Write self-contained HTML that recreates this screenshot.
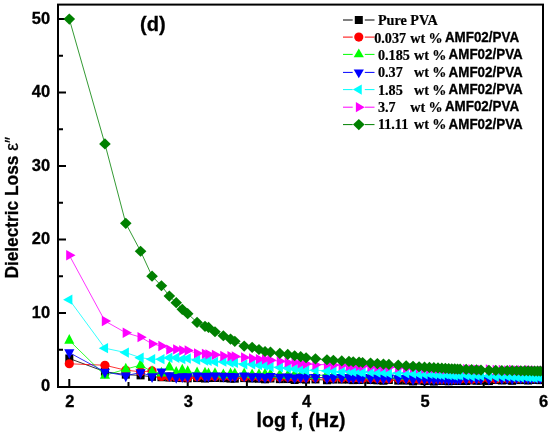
<!DOCTYPE html>
<html><head><meta charset="utf-8"><title>Dielectric Loss</title>
<style>
html,body{margin:0;padding:0;background:#fff;}
body{width:550px;height:435px;overflow:hidden;}
svg{display:block;}
</style></head>
<body>
<svg width="550" height="435" viewBox="0 0 550 435">
<rect width="550" height="435" fill="#fff"/>
<defs><clipPath id="c"><rect x="59" y="6" width="483" height="380"/></clipPath></defs>
<path d="M59 349.66h4 M59 312.93h7 M59 276.19h4 M59 239.46h7 M59 202.72h4 M59 165.99h7 M59 129.25h4 M59 92.52h7 M59 55.78h4 M59 19.05h7 M69.30 386v-7 M128.50 386v-4 M187.70 386v-7 M246.90 386v-4 M306.10 386v-7 M365.30 386v-4 M424.50 386v-7 M483.70 386v-4" stroke="#000" stroke-width="2" fill="none"/>
<g clip-path="url(#c)">
<polyline points="69.30,358.48 104.94,371.71 125.79,374.65 140.58,375.38 152.06,376.85 161.43,377.24 169.36,377.56 176.23,377.85 182.28,378.09 187.70,378.32 197.08,378.10 205.00,378.51 208.55,378.07 214.99,378.00 223.34,378.17 230.53,378.60 234.82,378.63 244.19,378.10 252.12,378.53 258.98,378.70 265.04,379.29 270.46,378.51 279.83,379.14 287.76,379.10 294.63,379.98 300.68,379.17 306.10,379.63 315.48,379.44 326.95,380.22 333.39,379.56 341.74,379.61 348.93,379.60 353.22,380.12 359.04,379.99 362.59,379.65 370.52,380.02 377.38,380.31 383.44,380.69 388.86,379.99 398.23,380.59 406.16,380.61 413.03,381.37 419.08,380.52 424.50,381.06 429.40,380.80 433.88,381.53 437.99,380.67 441.80,380.85 445.35,380.72 448.67,381.31 451.79,380.84 454.72,380.61 457.50,380.74 460.14,381.02 466.20,381.03 471.62,380.35 476.52,380.72 480.99,380.67 488.92,381.07 495.78,380.04 501.84,380.44 507.26,380.16 512.16,380.81 516.63,379.81 520.75,380.09 524.56,379.87 528.11,380.50 531.43,379.80 534.54,379.74 537.48,379.75 540.26,380.14 542.90,379.91" fill="none" stroke="#000000" stroke-width="0.8"/>
<g><rect x="65.30" y="354.48" width="8.0" height="8.0" fill="#000000"/><rect x="100.94" y="367.71" width="8.0" height="8.0" fill="#000000"/><rect x="121.79" y="370.65" width="8.0" height="8.0" fill="#000000"/><rect x="136.58" y="371.38" width="8.0" height="8.0" fill="#000000"/><rect x="148.06" y="372.85" width="8.0" height="8.0" fill="#000000"/><rect x="157.43" y="373.24" width="8.0" height="8.0" fill="#000000"/><rect x="165.36" y="373.56" width="8.0" height="8.0" fill="#000000"/><rect x="172.23" y="373.85" width="8.0" height="8.0" fill="#000000"/><rect x="178.28" y="374.09" width="8.0" height="8.0" fill="#000000"/><rect x="183.70" y="374.32" width="8.0" height="8.0" fill="#000000"/><rect x="193.08" y="374.10" width="8.0" height="8.0" fill="#000000"/><rect x="201.00" y="374.51" width="8.0" height="8.0" fill="#000000"/><rect x="204.55" y="374.07" width="8.0" height="8.0" fill="#000000"/><rect x="210.99" y="374.00" width="8.0" height="8.0" fill="#000000"/><rect x="219.34" y="374.17" width="8.0" height="8.0" fill="#000000"/><rect x="226.53" y="374.60" width="8.0" height="8.0" fill="#000000"/><rect x="230.82" y="374.63" width="8.0" height="8.0" fill="#000000"/><rect x="240.19" y="374.10" width="8.0" height="8.0" fill="#000000"/><rect x="248.12" y="374.53" width="8.0" height="8.0" fill="#000000"/><rect x="254.98" y="374.70" width="8.0" height="8.0" fill="#000000"/><rect x="261.04" y="375.29" width="8.0" height="8.0" fill="#000000"/><rect x="266.46" y="374.51" width="8.0" height="8.0" fill="#000000"/><rect x="275.83" y="375.14" width="8.0" height="8.0" fill="#000000"/><rect x="283.76" y="375.10" width="8.0" height="8.0" fill="#000000"/><rect x="290.63" y="375.98" width="8.0" height="8.0" fill="#000000"/><rect x="296.68" y="375.17" width="8.0" height="8.0" fill="#000000"/><rect x="302.10" y="375.63" width="8.0" height="8.0" fill="#000000"/><rect x="311.48" y="375.44" width="8.0" height="8.0" fill="#000000"/><rect x="322.95" y="376.22" width="8.0" height="8.0" fill="#000000"/><rect x="329.39" y="375.56" width="8.0" height="8.0" fill="#000000"/><rect x="337.74" y="375.61" width="8.0" height="8.0" fill="#000000"/><rect x="344.93" y="375.60" width="8.0" height="8.0" fill="#000000"/><rect x="349.22" y="376.12" width="8.0" height="8.0" fill="#000000"/><rect x="355.04" y="375.99" width="8.0" height="8.0" fill="#000000"/><rect x="358.59" y="375.65" width="8.0" height="8.0" fill="#000000"/><rect x="366.52" y="376.02" width="8.0" height="8.0" fill="#000000"/><rect x="373.38" y="376.31" width="8.0" height="8.0" fill="#000000"/><rect x="379.44" y="376.69" width="8.0" height="8.0" fill="#000000"/><rect x="384.86" y="375.99" width="8.0" height="8.0" fill="#000000"/><rect x="394.23" y="376.59" width="8.0" height="8.0" fill="#000000"/><rect x="402.16" y="376.61" width="8.0" height="8.0" fill="#000000"/><rect x="409.03" y="377.37" width="8.0" height="8.0" fill="#000000"/><rect x="415.08" y="376.52" width="8.0" height="8.0" fill="#000000"/><rect x="420.50" y="377.06" width="8.0" height="8.0" fill="#000000"/><rect x="425.40" y="376.80" width="8.0" height="8.0" fill="#000000"/><rect x="429.88" y="377.53" width="8.0" height="8.0" fill="#000000"/><rect x="433.99" y="376.67" width="8.0" height="8.0" fill="#000000"/><rect x="437.80" y="376.85" width="8.0" height="8.0" fill="#000000"/><rect x="441.35" y="376.72" width="8.0" height="8.0" fill="#000000"/><rect x="444.67" y="377.31" width="8.0" height="8.0" fill="#000000"/><rect x="447.79" y="376.84" width="8.0" height="8.0" fill="#000000"/><rect x="450.72" y="376.61" width="8.0" height="8.0" fill="#000000"/><rect x="453.50" y="376.74" width="8.0" height="8.0" fill="#000000"/><rect x="456.14" y="377.02" width="8.0" height="8.0" fill="#000000"/><rect x="462.20" y="377.03" width="8.0" height="8.0" fill="#000000"/><rect x="467.62" y="376.35" width="8.0" height="8.0" fill="#000000"/><rect x="472.52" y="376.72" width="8.0" height="8.0" fill="#000000"/><rect x="476.99" y="376.67" width="8.0" height="8.0" fill="#000000"/><rect x="484.92" y="377.07" width="8.0" height="8.0" fill="#000000"/><rect x="491.78" y="376.04" width="8.0" height="8.0" fill="#000000"/><rect x="497.84" y="376.44" width="8.0" height="8.0" fill="#000000"/><rect x="503.26" y="376.16" width="8.0" height="8.0" fill="#000000"/><rect x="508.16" y="376.81" width="8.0" height="8.0" fill="#000000"/><rect x="512.63" y="375.81" width="8.0" height="8.0" fill="#000000"/><rect x="516.75" y="376.09" width="8.0" height="8.0" fill="#000000"/><rect x="520.56" y="375.87" width="8.0" height="8.0" fill="#000000"/><rect x="524.11" y="376.50" width="8.0" height="8.0" fill="#000000"/><rect x="527.43" y="375.80" width="8.0" height="8.0" fill="#000000"/><rect x="530.54" y="375.74" width="8.0" height="8.0" fill="#000000"/><rect x="533.48" y="375.75" width="8.0" height="8.0" fill="#000000"/><rect x="536.26" y="376.14" width="8.0" height="8.0" fill="#000000"/><rect x="538.90" y="375.91" width="8.0" height="8.0" fill="#000000"/></g>
<polyline points="69.30,363.77 104.94,365.24 125.79,370.24 140.58,371.71 152.06,370.97 161.43,376.48 169.36,376.81 176.23,377.10 182.28,377.36 187.70,377.58 197.08,376.74 205.00,376.21 208.55,376.27 214.99,376.60 223.34,376.27 230.53,376.54 234.82,376.47 244.19,376.90 252.12,376.55 258.98,376.86 265.04,376.88 270.46,377.36 279.83,377.20 287.76,377.37 294.63,377.49 300.68,377.86 306.10,377.86 315.48,377.68 326.95,377.84 333.39,377.94 341.74,378.10 348.93,377.73 353.22,377.96 359.04,378.00 362.59,378.38 370.52,378.04 377.38,378.38 383.44,378.38 388.86,378.85 398.23,378.60 406.16,378.84 413.03,378.90 419.08,379.32 424.50,379.18 429.40,379.05 433.88,379.09 437.99,379.22 441.80,379.22 445.35,378.87 448.67,379.05 451.79,379.02 454.72,379.25 457.50,378.77 460.14,379.00 466.20,378.86 471.62,379.19 476.52,378.69 480.99,378.84 488.92,378.66 495.78,378.90 501.84,378.48 507.26,378.39 512.16,378.35 516.63,378.50 520.75,378.34 524.56,378.05 528.11,378.16 531.43,378.16 534.54,378.27 537.48,377.80 540.26,378.01 542.90,377.90" fill="none" stroke="#ff0000" stroke-width="0.8"/>
<g><circle cx="69.30" cy="363.77" r="4.6" fill="#ff0000"/><circle cx="104.94" cy="365.24" r="4.6" fill="#ff0000"/><circle cx="125.79" cy="370.24" r="4.6" fill="#ff0000"/><circle cx="140.58" cy="371.71" r="4.6" fill="#ff0000"/><circle cx="152.06" cy="370.97" r="4.6" fill="#ff0000"/><circle cx="161.43" cy="376.48" r="4.6" fill="#ff0000"/><circle cx="169.36" cy="376.81" r="4.6" fill="#ff0000"/><circle cx="176.23" cy="377.10" r="4.6" fill="#ff0000"/><circle cx="182.28" cy="377.36" r="4.6" fill="#ff0000"/><circle cx="187.70" cy="377.58" r="4.6" fill="#ff0000"/><circle cx="197.08" cy="376.74" r="4.6" fill="#ff0000"/><circle cx="205.00" cy="376.21" r="4.6" fill="#ff0000"/><circle cx="208.55" cy="376.27" r="4.6" fill="#ff0000"/><circle cx="214.99" cy="376.60" r="4.6" fill="#ff0000"/><circle cx="223.34" cy="376.27" r="4.6" fill="#ff0000"/><circle cx="230.53" cy="376.54" r="4.6" fill="#ff0000"/><circle cx="234.82" cy="376.47" r="4.6" fill="#ff0000"/><circle cx="244.19" cy="376.90" r="4.6" fill="#ff0000"/><circle cx="252.12" cy="376.55" r="4.6" fill="#ff0000"/><circle cx="258.98" cy="376.86" r="4.6" fill="#ff0000"/><circle cx="265.04" cy="376.88" r="4.6" fill="#ff0000"/><circle cx="270.46" cy="377.36" r="4.6" fill="#ff0000"/><circle cx="279.83" cy="377.20" r="4.6" fill="#ff0000"/><circle cx="287.76" cy="377.37" r="4.6" fill="#ff0000"/><circle cx="294.63" cy="377.49" r="4.6" fill="#ff0000"/><circle cx="300.68" cy="377.86" r="4.6" fill="#ff0000"/><circle cx="306.10" cy="377.86" r="4.6" fill="#ff0000"/><circle cx="315.48" cy="377.68" r="4.6" fill="#ff0000"/><circle cx="326.95" cy="377.84" r="4.6" fill="#ff0000"/><circle cx="333.39" cy="377.94" r="4.6" fill="#ff0000"/><circle cx="341.74" cy="378.10" r="4.6" fill="#ff0000"/><circle cx="348.93" cy="377.73" r="4.6" fill="#ff0000"/><circle cx="353.22" cy="377.96" r="4.6" fill="#ff0000"/><circle cx="359.04" cy="378.00" r="4.6" fill="#ff0000"/><circle cx="362.59" cy="378.38" r="4.6" fill="#ff0000"/><circle cx="370.52" cy="378.04" r="4.6" fill="#ff0000"/><circle cx="377.38" cy="378.38" r="4.6" fill="#ff0000"/><circle cx="383.44" cy="378.38" r="4.6" fill="#ff0000"/><circle cx="388.86" cy="378.85" r="4.6" fill="#ff0000"/><circle cx="398.23" cy="378.60" r="4.6" fill="#ff0000"/><circle cx="406.16" cy="378.84" r="4.6" fill="#ff0000"/><circle cx="413.03" cy="378.90" r="4.6" fill="#ff0000"/><circle cx="419.08" cy="379.32" r="4.6" fill="#ff0000"/><circle cx="424.50" cy="379.18" r="4.6" fill="#ff0000"/><circle cx="429.40" cy="379.05" r="4.6" fill="#ff0000"/><circle cx="433.88" cy="379.09" r="4.6" fill="#ff0000"/><circle cx="437.99" cy="379.22" r="4.6" fill="#ff0000"/><circle cx="441.80" cy="379.22" r="4.6" fill="#ff0000"/><circle cx="445.35" cy="378.87" r="4.6" fill="#ff0000"/><circle cx="448.67" cy="379.05" r="4.6" fill="#ff0000"/><circle cx="451.79" cy="379.02" r="4.6" fill="#ff0000"/><circle cx="454.72" cy="379.25" r="4.6" fill="#ff0000"/><circle cx="457.50" cy="378.77" r="4.6" fill="#ff0000"/><circle cx="460.14" cy="379.00" r="4.6" fill="#ff0000"/><circle cx="466.20" cy="378.86" r="4.6" fill="#ff0000"/><circle cx="471.62" cy="379.19" r="4.6" fill="#ff0000"/><circle cx="476.52" cy="378.69" r="4.6" fill="#ff0000"/><circle cx="480.99" cy="378.84" r="4.6" fill="#ff0000"/><circle cx="488.92" cy="378.66" r="4.6" fill="#ff0000"/><circle cx="495.78" cy="378.90" r="4.6" fill="#ff0000"/><circle cx="501.84" cy="378.48" r="4.6" fill="#ff0000"/><circle cx="507.26" cy="378.39" r="4.6" fill="#ff0000"/><circle cx="512.16" cy="378.35" r="4.6" fill="#ff0000"/><circle cx="516.63" cy="378.50" r="4.6" fill="#ff0000"/><circle cx="520.75" cy="378.34" r="4.6" fill="#ff0000"/><circle cx="524.56" cy="378.05" r="4.6" fill="#ff0000"/><circle cx="528.11" cy="378.16" r="4.6" fill="#ff0000"/><circle cx="531.43" cy="378.16" r="4.6" fill="#ff0000"/><circle cx="534.54" cy="378.27" r="4.6" fill="#ff0000"/><circle cx="537.48" cy="377.80" r="4.6" fill="#ff0000"/><circle cx="540.26" cy="378.01" r="4.6" fill="#ff0000"/><circle cx="542.90" cy="377.90" r="4.6" fill="#ff0000"/></g>
<polyline points="69.30,340.48 104.94,375.38 125.79,369.13 140.58,365.10 152.06,371.70 161.43,373.16 169.36,367.31 176.23,372.44 182.28,370.24 187.70,371.71 197.08,373.11 205.00,373.29 208.55,373.90 214.99,373.74 223.34,375.06 230.53,374.04 234.82,374.09 244.19,374.06 252.12,374.90 258.98,374.66 265.04,374.15 270.46,374.58 279.83,374.98 287.76,375.51 294.63,374.43 300.68,375.18 306.10,375.08 315.48,376.04 326.95,374.60 333.39,375.26 341.74,374.93 348.93,376.07 353.22,374.81 359.04,375.19 362.59,375.08 370.52,376.12 377.38,375.53 383.44,375.30 388.86,375.60 398.23,376.19 406.16,376.37 413.03,375.51 419.08,376.19 424.50,376.24 429.40,376.94 433.88,375.53 437.99,376.24 441.80,375.92 445.35,376.97 448.67,375.55 451.79,376.05 454.72,375.79 457.50,376.80 460.14,375.80 466.20,375.74 471.62,375.79 476.52,376.40 480.99,376.09 488.92,375.30 495.78,375.69 501.84,375.75 507.26,376.11 512.16,374.79 516.63,375.48 520.75,375.20 524.56,376.09 528.11,374.57 531.43,375.22 534.54,374.88 537.48,375.90 540.26,374.63 542.90,374.86" fill="none" stroke="#00ff00" stroke-width="0.8"/>
<g><polygon points="69.30,333.98 74.35,343.73 64.25,343.73" fill="#00ff00"/><polygon points="104.94,368.88 109.99,378.63 99.89,378.63" fill="#00ff00"/><polygon points="125.79,362.63 130.84,372.38 120.74,372.38" fill="#00ff00"/><polygon points="140.58,358.60 145.63,368.35 135.53,368.35" fill="#00ff00"/><polygon points="152.06,365.20 157.11,374.95 147.01,374.95" fill="#00ff00"/><polygon points="161.43,366.66 166.48,376.41 156.38,376.41" fill="#00ff00"/><polygon points="169.36,360.81 174.41,370.56 164.31,370.56" fill="#00ff00"/><polygon points="176.23,365.94 181.28,375.69 171.18,375.69" fill="#00ff00"/><polygon points="182.28,363.74 187.33,373.49 177.23,373.49" fill="#00ff00"/><polygon points="187.70,365.21 192.75,374.96 182.65,374.96" fill="#00ff00"/><polygon points="197.08,366.61 202.13,376.36 192.03,376.36" fill="#00ff00"/><polygon points="205.00,366.79 210.05,376.54 199.95,376.54" fill="#00ff00"/><polygon points="208.55,367.40 213.60,377.15 203.50,377.15" fill="#00ff00"/><polygon points="214.99,367.24 220.04,376.99 209.94,376.99" fill="#00ff00"/><polygon points="223.34,368.56 228.39,378.31 218.29,378.31" fill="#00ff00"/><polygon points="230.53,367.54 235.58,377.29 225.48,377.29" fill="#00ff00"/><polygon points="234.82,367.59 239.87,377.34 229.77,377.34" fill="#00ff00"/><polygon points="244.19,367.56 249.24,377.31 239.14,377.31" fill="#00ff00"/><polygon points="252.12,368.40 257.17,378.15 247.07,378.15" fill="#00ff00"/><polygon points="258.98,368.16 264.03,377.91 253.93,377.91" fill="#00ff00"/><polygon points="265.04,367.65 270.09,377.40 259.99,377.40" fill="#00ff00"/><polygon points="270.46,368.08 275.51,377.83 265.41,377.83" fill="#00ff00"/><polygon points="279.83,368.48 284.88,378.23 274.78,378.23" fill="#00ff00"/><polygon points="287.76,369.01 292.81,378.76 282.71,378.76" fill="#00ff00"/><polygon points="294.63,367.93 299.68,377.68 289.58,377.68" fill="#00ff00"/><polygon points="300.68,368.68 305.73,378.43 295.63,378.43" fill="#00ff00"/><polygon points="306.10,368.58 311.15,378.33 301.05,378.33" fill="#00ff00"/><polygon points="315.48,369.54 320.53,379.29 310.43,379.29" fill="#00ff00"/><polygon points="326.95,368.10 332.00,377.85 321.90,377.85" fill="#00ff00"/><polygon points="333.39,368.76 338.44,378.51 328.34,378.51" fill="#00ff00"/><polygon points="341.74,368.43 346.79,378.18 336.69,378.18" fill="#00ff00"/><polygon points="348.93,369.57 353.98,379.32 343.88,379.32" fill="#00ff00"/><polygon points="353.22,368.31 358.27,378.06 348.17,378.06" fill="#00ff00"/><polygon points="359.04,368.69 364.09,378.44 353.99,378.44" fill="#00ff00"/><polygon points="362.59,368.58 367.64,378.33 357.54,378.33" fill="#00ff00"/><polygon points="370.52,369.62 375.57,379.37 365.47,379.37" fill="#00ff00"/><polygon points="377.38,369.03 382.43,378.78 372.33,378.78" fill="#00ff00"/><polygon points="383.44,368.80 388.49,378.55 378.39,378.55" fill="#00ff00"/><polygon points="388.86,369.10 393.91,378.85 383.81,378.85" fill="#00ff00"/><polygon points="398.23,369.69 403.28,379.44 393.18,379.44" fill="#00ff00"/><polygon points="406.16,369.87 411.21,379.62 401.11,379.62" fill="#00ff00"/><polygon points="413.03,369.01 418.08,378.76 407.98,378.76" fill="#00ff00"/><polygon points="419.08,369.69 424.13,379.44 414.03,379.44" fill="#00ff00"/><polygon points="424.50,369.74 429.55,379.49 419.45,379.49" fill="#00ff00"/><polygon points="429.40,370.44 434.45,380.19 424.35,380.19" fill="#00ff00"/><polygon points="433.88,369.03 438.93,378.78 428.83,378.78" fill="#00ff00"/><polygon points="437.99,369.74 443.04,379.49 432.94,379.49" fill="#00ff00"/><polygon points="441.80,369.42 446.85,379.17 436.75,379.17" fill="#00ff00"/><polygon points="445.35,370.47 450.40,380.22 440.30,380.22" fill="#00ff00"/><polygon points="448.67,369.05 453.72,378.80 443.62,378.80" fill="#00ff00"/><polygon points="451.79,369.55 456.84,379.30 446.74,379.30" fill="#00ff00"/><polygon points="454.72,369.29 459.77,379.04 449.67,379.04" fill="#00ff00"/><polygon points="457.50,370.30 462.55,380.05 452.45,380.05" fill="#00ff00"/><polygon points="460.14,369.30 465.19,379.05 455.09,379.05" fill="#00ff00"/><polygon points="466.20,369.24 471.25,378.99 461.15,378.99" fill="#00ff00"/><polygon points="471.62,369.29 476.67,379.04 466.57,379.04" fill="#00ff00"/><polygon points="476.52,369.90 481.57,379.65 471.47,379.65" fill="#00ff00"/><polygon points="480.99,369.59 486.04,379.34 475.94,379.34" fill="#00ff00"/><polygon points="488.92,368.80 493.97,378.55 483.87,378.55" fill="#00ff00"/><polygon points="495.78,369.19 500.83,378.94 490.73,378.94" fill="#00ff00"/><polygon points="501.84,369.25 506.89,379.00 496.79,379.00" fill="#00ff00"/><polygon points="507.26,369.61 512.31,379.36 502.21,379.36" fill="#00ff00"/><polygon points="512.16,368.29 517.21,378.04 507.11,378.04" fill="#00ff00"/><polygon points="516.63,368.98 521.68,378.73 511.58,378.73" fill="#00ff00"/><polygon points="520.75,368.70 525.80,378.45 515.70,378.45" fill="#00ff00"/><polygon points="524.56,369.59 529.61,379.34 519.51,379.34" fill="#00ff00"/><polygon points="528.11,368.07 533.16,377.82 523.06,377.82" fill="#00ff00"/><polygon points="531.43,368.72 536.48,378.47 526.38,378.47" fill="#00ff00"/><polygon points="534.54,368.38 539.59,378.13 529.49,378.13" fill="#00ff00"/><polygon points="537.48,369.40 542.53,379.15 532.43,379.15" fill="#00ff00"/><polygon points="540.26,368.13 545.31,377.88 535.21,377.88" fill="#00ff00"/><polygon points="542.90,368.36 547.95,378.11 537.85,378.11" fill="#00ff00"/></g>
<polyline points="69.30,352.60 104.94,371.93 125.79,375.74 140.58,372.44 152.06,376.48 161.43,371.86 169.36,375.38 176.23,377.21 182.28,376.48 187.70,376.48 197.08,375.75 205.00,376.19 208.55,376.01 214.99,375.70 223.34,376.05 230.53,376.26 234.82,376.56 244.19,375.83 252.12,376.38 258.98,376.40 265.04,377.16 270.46,376.31 279.83,376.93 287.76,376.87 294.63,377.76 300.68,377.05 306.10,377.36 315.48,377.28 326.95,377.93 333.39,377.49 341.74,377.31 348.93,377.47 353.22,377.79 359.04,377.93 362.59,377.35 370.52,377.89 377.38,377.99 383.44,378.58 388.86,377.75 398.23,378.41 406.16,378.35 413.03,379.19 419.08,378.37 424.50,378.81 429.40,378.61 433.88,379.27 437.99,378.59 441.80,378.55 445.35,378.58 448.67,378.99 451.79,378.78 454.72,378.30 457.50,378.61 460.14,378.69 466.20,378.95 471.62,378.09 476.52,378.56 480.99,378.39 488.92,378.92 495.78,377.85 501.84,378.22 507.26,377.94 512.16,378.58 516.63,377.69 520.75,377.81 524.56,377.72 528.11,378.20 531.43,377.74 534.54,377.43 537.48,377.62 540.26,377.81 542.90,377.85" fill="none" stroke="#0000ff" stroke-width="0.8"/>
<g><polygon points="69.30,359.10 74.35,349.35 64.25,349.35" fill="#0000ff"/><polygon points="104.94,378.43 109.99,368.68 99.89,368.68" fill="#0000ff"/><polygon points="125.79,382.24 130.84,372.49 120.74,372.49" fill="#0000ff"/><polygon points="140.58,378.94 145.63,369.19 135.53,369.19" fill="#0000ff"/><polygon points="152.06,382.98 157.11,373.23 147.01,373.23" fill="#0000ff"/><polygon points="161.43,378.36 166.48,368.61 156.38,368.61" fill="#0000ff"/><polygon points="169.36,381.88 174.41,372.13 164.31,372.13" fill="#0000ff"/><polygon points="176.23,383.71 181.28,373.96 171.18,373.96" fill="#0000ff"/><polygon points="182.28,382.98 187.33,373.23 177.23,373.23" fill="#0000ff"/><polygon points="187.70,382.98 192.75,373.23 182.65,373.23" fill="#0000ff"/><polygon points="197.08,382.25 202.13,372.50 192.03,372.50" fill="#0000ff"/><polygon points="205.00,382.69 210.05,372.94 199.95,372.94" fill="#0000ff"/><polygon points="208.55,382.51 213.60,372.76 203.50,372.76" fill="#0000ff"/><polygon points="214.99,382.20 220.04,372.45 209.94,372.45" fill="#0000ff"/><polygon points="223.34,382.55 228.39,372.80 218.29,372.80" fill="#0000ff"/><polygon points="230.53,382.76 235.58,373.01 225.48,373.01" fill="#0000ff"/><polygon points="234.82,383.06 239.87,373.31 229.77,373.31" fill="#0000ff"/><polygon points="244.19,382.33 249.24,372.58 239.14,372.58" fill="#0000ff"/><polygon points="252.12,382.88 257.17,373.13 247.07,373.13" fill="#0000ff"/><polygon points="258.98,382.90 264.03,373.15 253.93,373.15" fill="#0000ff"/><polygon points="265.04,383.66 270.09,373.91 259.99,373.91" fill="#0000ff"/><polygon points="270.46,382.81 275.51,373.06 265.41,373.06" fill="#0000ff"/><polygon points="279.83,383.43 284.88,373.68 274.78,373.68" fill="#0000ff"/><polygon points="287.76,383.37 292.81,373.62 282.71,373.62" fill="#0000ff"/><polygon points="294.63,384.26 299.68,374.51 289.58,374.51" fill="#0000ff"/><polygon points="300.68,383.55 305.73,373.80 295.63,373.80" fill="#0000ff"/><polygon points="306.10,383.86 311.15,374.11 301.05,374.11" fill="#0000ff"/><polygon points="315.48,383.78 320.53,374.03 310.43,374.03" fill="#0000ff"/><polygon points="326.95,384.43 332.00,374.68 321.90,374.68" fill="#0000ff"/><polygon points="333.39,383.99 338.44,374.24 328.34,374.24" fill="#0000ff"/><polygon points="341.74,383.81 346.79,374.06 336.69,374.06" fill="#0000ff"/><polygon points="348.93,383.97 353.98,374.22 343.88,374.22" fill="#0000ff"/><polygon points="353.22,384.29 358.27,374.54 348.17,374.54" fill="#0000ff"/><polygon points="359.04,384.43 364.09,374.68 353.99,374.68" fill="#0000ff"/><polygon points="362.59,383.85 367.64,374.10 357.54,374.10" fill="#0000ff"/><polygon points="370.52,384.39 375.57,374.64 365.47,374.64" fill="#0000ff"/><polygon points="377.38,384.49 382.43,374.74 372.33,374.74" fill="#0000ff"/><polygon points="383.44,385.08 388.49,375.33 378.39,375.33" fill="#0000ff"/><polygon points="388.86,384.25 393.91,374.50 383.81,374.50" fill="#0000ff"/><polygon points="398.23,384.91 403.28,375.16 393.18,375.16" fill="#0000ff"/><polygon points="406.16,384.85 411.21,375.10 401.11,375.10" fill="#0000ff"/><polygon points="413.03,385.69 418.08,375.94 407.98,375.94" fill="#0000ff"/><polygon points="419.08,384.87 424.13,375.12 414.03,375.12" fill="#0000ff"/><polygon points="424.50,385.31 429.55,375.56 419.45,375.56" fill="#0000ff"/><polygon points="429.40,385.11 434.45,375.36 424.35,375.36" fill="#0000ff"/><polygon points="433.88,385.77 438.93,376.02 428.83,376.02" fill="#0000ff"/><polygon points="437.99,385.09 443.04,375.34 432.94,375.34" fill="#0000ff"/><polygon points="441.80,385.05 446.85,375.30 436.75,375.30" fill="#0000ff"/><polygon points="445.35,385.08 450.40,375.33 440.30,375.33" fill="#0000ff"/><polygon points="448.67,385.49 453.72,375.74 443.62,375.74" fill="#0000ff"/><polygon points="451.79,385.28 456.84,375.53 446.74,375.53" fill="#0000ff"/><polygon points="454.72,384.80 459.77,375.05 449.67,375.05" fill="#0000ff"/><polygon points="457.50,385.11 462.55,375.36 452.45,375.36" fill="#0000ff"/><polygon points="460.14,385.19 465.19,375.44 455.09,375.44" fill="#0000ff"/><polygon points="466.20,385.45 471.25,375.70 461.15,375.70" fill="#0000ff"/><polygon points="471.62,384.59 476.67,374.84 466.57,374.84" fill="#0000ff"/><polygon points="476.52,385.06 481.57,375.31 471.47,375.31" fill="#0000ff"/><polygon points="480.99,384.89 486.04,375.14 475.94,375.14" fill="#0000ff"/><polygon points="488.92,385.42 493.97,375.67 483.87,375.67" fill="#0000ff"/><polygon points="495.78,384.35 500.83,374.60 490.73,374.60" fill="#0000ff"/><polygon points="501.84,384.72 506.89,374.97 496.79,374.97" fill="#0000ff"/><polygon points="507.26,384.44 512.31,374.69 502.21,374.69" fill="#0000ff"/><polygon points="512.16,385.08 517.21,375.33 507.11,375.33" fill="#0000ff"/><polygon points="516.63,384.19 521.68,374.44 511.58,374.44" fill="#0000ff"/><polygon points="520.75,384.31 525.80,374.56 515.70,374.56" fill="#0000ff"/><polygon points="524.56,384.22 529.61,374.47 519.51,374.47" fill="#0000ff"/><polygon points="528.11,384.70 533.16,374.95 523.06,374.95" fill="#0000ff"/><polygon points="531.43,384.24 536.48,374.49 526.38,374.49" fill="#0000ff"/><polygon points="534.54,383.93 539.59,374.18 529.49,374.18" fill="#0000ff"/><polygon points="537.48,384.12 542.53,374.37 532.43,374.37" fill="#0000ff"/><polygon points="540.26,384.31 545.31,374.56 535.21,374.56" fill="#0000ff"/><polygon points="542.90,384.35 547.95,374.60 537.85,374.60" fill="#0000ff"/></g>
<polyline points="69.30,299.71 104.94,348.20 125.79,352.61 140.58,357.75 152.06,359.22 161.43,359.21 169.36,357.75 176.23,357.75 182.28,359.21 187.70,358.48 197.08,359.94 205.00,360.60 208.55,360.77 214.99,361.94 223.34,361.66 230.53,362.68 234.82,362.81 244.19,364.33 252.12,364.26 258.98,365.19 265.04,365.72 270.46,366.90 279.83,367.44 287.76,368.06 294.63,368.93 300.68,369.87 306.10,370.49 315.48,370.15 326.95,370.93 333.39,371.12 341.74,371.88 348.93,371.19 353.22,371.83 359.04,371.82 362.59,372.66 370.52,371.98 377.38,372.56 383.44,372.59 388.86,373.45 398.23,373.11 406.16,373.35 413.03,373.63 419.08,374.26 424.50,374.25 429.40,373.95 433.88,374.43 437.99,374.67 441.80,375.09 445.35,374.37 448.67,374.99 451.79,374.95 454.72,375.68 457.50,374.80 460.14,375.35 466.20,375.36 471.62,376.24 476.52,375.59 480.99,375.92 488.92,376.10 495.78,376.81 501.84,376.55 507.26,376.42 512.16,376.78 516.63,377.11 520.75,377.30 524.56,376.70 528.11,377.26 531.43,377.28 534.54,377.85 537.48,376.97 540.26,377.57 542.90,377.44" fill="none" stroke="#00ffff" stroke-width="0.8"/>
<g><polygon points="63.10,299.71 72.40,294.56 72.40,304.86" fill="#00ffff"/><polygon points="98.74,348.20 108.04,343.05 108.04,353.35" fill="#00ffff"/><polygon points="119.59,352.61 128.89,347.46 128.89,357.76" fill="#00ffff"/><polygon points="134.38,357.75 143.68,352.60 143.68,362.90" fill="#00ffff"/><polygon points="145.86,359.22 155.16,354.07 155.16,364.37" fill="#00ffff"/><polygon points="155.23,359.21 164.53,354.06 164.53,364.36" fill="#00ffff"/><polygon points="163.16,357.75 172.46,352.60 172.46,362.90" fill="#00ffff"/><polygon points="170.03,357.75 179.33,352.60 179.33,362.90" fill="#00ffff"/><polygon points="176.08,359.21 185.38,354.06 185.38,364.36" fill="#00ffff"/><polygon points="181.50,358.48 190.80,353.33 190.80,363.63" fill="#00ffff"/><polygon points="190.88,359.94 200.18,354.79 200.18,365.09" fill="#00ffff"/><polygon points="198.80,360.60 208.10,355.45 208.10,365.75" fill="#00ffff"/><polygon points="202.35,360.77 211.65,355.62 211.65,365.92" fill="#00ffff"/><polygon points="208.79,361.94 218.09,356.79 218.09,367.09" fill="#00ffff"/><polygon points="217.14,361.66 226.44,356.51 226.44,366.81" fill="#00ffff"/><polygon points="224.33,362.68 233.63,357.53 233.63,367.83" fill="#00ffff"/><polygon points="228.62,362.81 237.92,357.66 237.92,367.96" fill="#00ffff"/><polygon points="237.99,364.33 247.29,359.18 247.29,369.48" fill="#00ffff"/><polygon points="245.92,364.26 255.22,359.11 255.22,369.41" fill="#00ffff"/><polygon points="252.78,365.19 262.08,360.04 262.08,370.34" fill="#00ffff"/><polygon points="258.84,365.72 268.14,360.57 268.14,370.87" fill="#00ffff"/><polygon points="264.26,366.90 273.56,361.75 273.56,372.05" fill="#00ffff"/><polygon points="273.63,367.44 282.93,362.29 282.93,372.59" fill="#00ffff"/><polygon points="281.56,368.06 290.86,362.91 290.86,373.21" fill="#00ffff"/><polygon points="288.43,368.93 297.73,363.78 297.73,374.08" fill="#00ffff"/><polygon points="294.48,369.87 303.78,364.72 303.78,375.02" fill="#00ffff"/><polygon points="299.90,370.49 309.20,365.34 309.20,375.64" fill="#00ffff"/><polygon points="309.28,370.15 318.58,365.00 318.58,375.30" fill="#00ffff"/><polygon points="320.75,370.93 330.05,365.78 330.05,376.08" fill="#00ffff"/><polygon points="327.19,371.12 336.49,365.97 336.49,376.27" fill="#00ffff"/><polygon points="335.54,371.88 344.84,366.73 344.84,377.03" fill="#00ffff"/><polygon points="342.73,371.19 352.03,366.04 352.03,376.34" fill="#00ffff"/><polygon points="347.02,371.83 356.32,366.68 356.32,376.98" fill="#00ffff"/><polygon points="352.84,371.82 362.14,366.67 362.14,376.97" fill="#00ffff"/><polygon points="356.39,372.66 365.69,367.51 365.69,377.81" fill="#00ffff"/><polygon points="364.32,371.98 373.62,366.83 373.62,377.13" fill="#00ffff"/><polygon points="371.18,372.56 380.48,367.41 380.48,377.71" fill="#00ffff"/><polygon points="377.24,372.59 386.54,367.44 386.54,377.74" fill="#00ffff"/><polygon points="382.66,373.45 391.96,368.30 391.96,378.60" fill="#00ffff"/><polygon points="392.03,373.11 401.33,367.96 401.33,378.26" fill="#00ffff"/><polygon points="399.96,373.35 409.26,368.20 409.26,378.50" fill="#00ffff"/><polygon points="406.83,373.63 416.13,368.48 416.13,378.78" fill="#00ffff"/><polygon points="412.88,374.26 422.18,369.11 422.18,379.41" fill="#00ffff"/><polygon points="418.30,374.25 427.60,369.10 427.60,379.40" fill="#00ffff"/><polygon points="423.20,373.95 432.50,368.80 432.50,379.10" fill="#00ffff"/><polygon points="427.68,374.43 436.98,369.28 436.98,379.58" fill="#00ffff"/><polygon points="431.79,374.67 441.09,369.52 441.09,379.82" fill="#00ffff"/><polygon points="435.60,375.09 444.90,369.94 444.90,380.24" fill="#00ffff"/><polygon points="439.15,374.37 448.45,369.22 448.45,379.52" fill="#00ffff"/><polygon points="442.47,374.99 451.77,369.84 451.77,380.14" fill="#00ffff"/><polygon points="445.59,374.95 454.89,369.80 454.89,380.10" fill="#00ffff"/><polygon points="448.52,375.68 457.82,370.53 457.82,380.83" fill="#00ffff"/><polygon points="451.30,374.80 460.60,369.65 460.60,379.95" fill="#00ffff"/><polygon points="453.94,375.35 463.24,370.20 463.24,380.50" fill="#00ffff"/><polygon points="460.00,375.36 469.30,370.21 469.30,380.51" fill="#00ffff"/><polygon points="465.42,376.24 474.72,371.09 474.72,381.39" fill="#00ffff"/><polygon points="470.32,375.59 479.62,370.44 479.62,380.74" fill="#00ffff"/><polygon points="474.79,375.92 484.09,370.77 484.09,381.07" fill="#00ffff"/><polygon points="482.72,376.10 492.02,370.95 492.02,381.25" fill="#00ffff"/><polygon points="489.58,376.81 498.88,371.66 498.88,381.96" fill="#00ffff"/><polygon points="495.64,376.55 504.94,371.40 504.94,381.70" fill="#00ffff"/><polygon points="501.06,376.42 510.36,371.27 510.36,381.57" fill="#00ffff"/><polygon points="505.96,376.78 515.26,371.63 515.26,381.93" fill="#00ffff"/><polygon points="510.43,377.11 519.73,371.96 519.73,382.26" fill="#00ffff"/><polygon points="514.55,377.30 523.85,372.15 523.85,382.45" fill="#00ffff"/><polygon points="518.36,376.70 527.66,371.55 527.66,381.85" fill="#00ffff"/><polygon points="521.91,377.26 531.21,372.11 531.21,382.41" fill="#00ffff"/><polygon points="525.23,377.28 534.53,372.13 534.53,382.43" fill="#00ffff"/><polygon points="528.34,377.85 537.64,372.70 537.64,383.00" fill="#00ffff"/><polygon points="531.28,376.97 540.58,371.82 540.58,382.12" fill="#00ffff"/><polygon points="534.06,377.57 543.36,372.42 543.36,382.72" fill="#00ffff"/><polygon points="536.70,377.44 546.00,372.29 546.00,382.59" fill="#00ffff"/></g>
<polyline points="69.30,255.26 104.94,321.01 125.79,332.77 140.58,337.18 152.06,343.79 161.43,346.00 169.36,349.66 176.23,349.30 182.28,350.40 187.70,350.40 197.08,353.31 205.00,353.82 208.55,354.29 214.99,354.78 223.34,355.98 230.53,356.27 234.82,356.49 244.19,357.44 252.12,358.45 258.98,359.21 265.04,359.37 270.46,360.23 279.83,361.21 287.76,362.41 294.63,362.44 300.68,363.45 306.10,363.87 315.48,364.78 326.95,364.53 333.39,365.04 341.74,365.24 348.93,366.04 353.22,365.71 359.04,365.93 362.59,366.11 370.52,366.74 377.38,366.87 383.44,366.76 388.86,367.21 398.23,367.66 406.16,368.19 413.03,367.83 419.08,368.44 424.50,368.55 429.40,369.11 433.88,368.46 437.99,368.88 441.80,368.80 445.35,369.40 448.67,368.85 451.79,369.03 454.72,369.06 457.50,369.51 460.14,369.25 466.20,369.16 471.62,369.44 476.52,369.69 480.99,369.84 488.92,369.46 495.78,369.94 501.84,370.00 507.26,370.47 512.16,369.84 516.63,370.32 520.75,370.25 524.56,370.83 528.11,370.20 531.43,370.52 534.54,370.49 537.48,371.00 540.26,370.59 542.90,370.60" fill="none" stroke="#ff00ff" stroke-width="0.8"/>
<g><polygon points="75.50,255.26 66.20,250.11 66.20,260.41" fill="#ff00ff"/><polygon points="111.14,321.01 101.84,315.86 101.84,326.16" fill="#ff00ff"/><polygon points="131.99,332.77 122.69,327.62 122.69,337.92" fill="#ff00ff"/><polygon points="146.78,337.18 137.48,332.03 137.48,342.33" fill="#ff00ff"/><polygon points="158.26,343.79 148.96,338.64 148.96,348.94" fill="#ff00ff"/><polygon points="167.63,346.00 158.33,340.85 158.33,351.15" fill="#ff00ff"/><polygon points="175.56,349.66 166.26,344.51 166.26,354.81" fill="#ff00ff"/><polygon points="182.43,349.30 173.13,344.15 173.13,354.45" fill="#ff00ff"/><polygon points="188.48,350.40 179.18,345.25 179.18,355.55" fill="#ff00ff"/><polygon points="193.90,350.40 184.60,345.25 184.60,355.55" fill="#ff00ff"/><polygon points="203.28,353.31 193.98,348.16 193.98,358.46" fill="#ff00ff"/><polygon points="211.20,353.82 201.90,348.67 201.90,358.97" fill="#ff00ff"/><polygon points="214.75,354.29 205.45,349.14 205.45,359.44" fill="#ff00ff"/><polygon points="221.19,354.78 211.89,349.63 211.89,359.93" fill="#ff00ff"/><polygon points="229.54,355.98 220.24,350.83 220.24,361.13" fill="#ff00ff"/><polygon points="236.73,356.27 227.43,351.12 227.43,361.42" fill="#ff00ff"/><polygon points="241.02,356.49 231.72,351.34 231.72,361.64" fill="#ff00ff"/><polygon points="250.39,357.44 241.09,352.29 241.09,362.59" fill="#ff00ff"/><polygon points="258.32,358.45 249.02,353.30 249.02,363.60" fill="#ff00ff"/><polygon points="265.18,359.21 255.88,354.06 255.88,364.36" fill="#ff00ff"/><polygon points="271.24,359.37 261.94,354.22 261.94,364.52" fill="#ff00ff"/><polygon points="276.66,360.23 267.36,355.08 267.36,365.38" fill="#ff00ff"/><polygon points="286.03,361.21 276.73,356.06 276.73,366.36" fill="#ff00ff"/><polygon points="293.96,362.41 284.66,357.26 284.66,367.56" fill="#ff00ff"/><polygon points="300.83,362.44 291.53,357.29 291.53,367.59" fill="#ff00ff"/><polygon points="306.88,363.45 297.58,358.30 297.58,368.60" fill="#ff00ff"/><polygon points="312.30,363.87 303.00,358.72 303.00,369.02" fill="#ff00ff"/><polygon points="321.68,364.78 312.38,359.63 312.38,369.93" fill="#ff00ff"/><polygon points="333.15,364.53 323.85,359.38 323.85,369.68" fill="#ff00ff"/><polygon points="339.59,365.04 330.29,359.89 330.29,370.19" fill="#ff00ff"/><polygon points="347.94,365.24 338.64,360.09 338.64,370.39" fill="#ff00ff"/><polygon points="355.13,366.04 345.83,360.89 345.83,371.19" fill="#ff00ff"/><polygon points="359.42,365.71 350.12,360.56 350.12,370.86" fill="#ff00ff"/><polygon points="365.24,365.93 355.94,360.78 355.94,371.08" fill="#ff00ff"/><polygon points="368.79,366.11 359.49,360.96 359.49,371.26" fill="#ff00ff"/><polygon points="376.72,366.74 367.42,361.59 367.42,371.89" fill="#ff00ff"/><polygon points="383.58,366.87 374.28,361.72 374.28,372.02" fill="#ff00ff"/><polygon points="389.64,366.76 380.34,361.61 380.34,371.91" fill="#ff00ff"/><polygon points="395.06,367.21 385.76,362.06 385.76,372.36" fill="#ff00ff"/><polygon points="404.43,367.66 395.13,362.51 395.13,372.81" fill="#ff00ff"/><polygon points="412.36,368.19 403.06,363.04 403.06,373.34" fill="#ff00ff"/><polygon points="419.23,367.83 409.93,362.68 409.93,372.98" fill="#ff00ff"/><polygon points="425.28,368.44 415.98,363.29 415.98,373.59" fill="#ff00ff"/><polygon points="430.70,368.55 421.40,363.40 421.40,373.70" fill="#ff00ff"/><polygon points="435.60,369.11 426.30,363.96 426.30,374.26" fill="#ff00ff"/><polygon points="440.08,368.46 430.78,363.31 430.78,373.61" fill="#ff00ff"/><polygon points="444.19,368.88 434.89,363.73 434.89,374.03" fill="#ff00ff"/><polygon points="448.00,368.80 438.70,363.65 438.70,373.95" fill="#ff00ff"/><polygon points="451.55,369.40 442.25,364.25 442.25,374.55" fill="#ff00ff"/><polygon points="454.87,368.85 445.57,363.70 445.57,374.00" fill="#ff00ff"/><polygon points="457.99,369.03 448.69,363.88 448.69,374.18" fill="#ff00ff"/><polygon points="460.92,369.06 451.62,363.91 451.62,374.21" fill="#ff00ff"/><polygon points="463.70,369.51 454.40,364.36 454.40,374.66" fill="#ff00ff"/><polygon points="466.34,369.25 457.04,364.10 457.04,374.40" fill="#ff00ff"/><polygon points="472.40,369.16 463.10,364.01 463.10,374.31" fill="#ff00ff"/><polygon points="477.82,369.44 468.52,364.29 468.52,374.59" fill="#ff00ff"/><polygon points="482.72,369.69 473.42,364.54 473.42,374.84" fill="#ff00ff"/><polygon points="487.19,369.84 477.89,364.69 477.89,374.99" fill="#ff00ff"/><polygon points="495.12,369.46 485.82,364.31 485.82,374.61" fill="#ff00ff"/><polygon points="501.98,369.94 492.68,364.79 492.68,375.09" fill="#ff00ff"/><polygon points="508.04,370.00 498.74,364.85 498.74,375.15" fill="#ff00ff"/><polygon points="513.46,370.47 504.16,365.32 504.16,375.62" fill="#ff00ff"/><polygon points="518.36,369.84 509.06,364.69 509.06,374.99" fill="#ff00ff"/><polygon points="522.83,370.32 513.53,365.17 513.53,375.47" fill="#ff00ff"/><polygon points="526.95,370.25 517.65,365.10 517.65,375.40" fill="#ff00ff"/><polygon points="530.76,370.83 521.46,365.68 521.46,375.98" fill="#ff00ff"/><polygon points="534.31,370.20 525.01,365.05 525.01,375.35" fill="#ff00ff"/><polygon points="537.63,370.52 528.33,365.37 528.33,375.67" fill="#ff00ff"/><polygon points="540.74,370.49 531.44,365.34 531.44,375.64" fill="#ff00ff"/><polygon points="543.68,371.00 534.38,365.85 534.38,376.15" fill="#ff00ff"/><polygon points="546.46,370.59 537.16,365.44 537.16,375.74" fill="#ff00ff"/><polygon points="549.10,370.60 539.80,365.45 539.80,375.75" fill="#ff00ff"/></g>
<polyline points="69.30,19.05 104.94,143.96 125.79,223.32 140.58,251.23 152.06,276.19 161.43,285.77 169.36,296.04 176.23,302.66 182.28,309.28 187.70,313.66 197.08,322.39 205.00,326.28 208.55,327.45 214.99,331.73 223.34,335.76 230.53,339.03 234.82,341.36 244.19,346.10 252.12,347.32 258.98,349.49 265.04,351.48 270.46,352.18 279.83,353.44 287.76,354.44 294.63,355.73 300.68,356.63 306.10,357.75 315.48,358.84 326.95,359.73 333.39,360.23 341.74,360.88 348.93,361.44 353.22,361.77 359.04,362.21 362.59,362.48 370.52,363.08 377.38,363.59 383.44,364.05 388.86,364.46 398.23,365.17 406.16,365.77 413.03,366.28 419.08,366.74 424.50,367.15 429.40,367.44 433.88,367.71 437.99,367.95 441.80,368.18 445.35,368.39 448.67,368.59 451.79,368.78 454.72,368.94 457.50,369.07 460.14,369.18 466.20,369.45 471.62,369.70 476.52,369.92 480.99,370.12 488.92,370.32 495.78,370.43 501.84,370.53 507.26,370.62 512.16,370.70 516.63,370.77 520.75,370.83 524.56,370.90 528.11,370.95 531.43,371.01 534.54,371.06 537.48,371.10 540.26,371.15 542.90,371.19" fill="none" stroke="#008000" stroke-width="0.8"/>
<g><polygon points="69.30,13.45 75.10,19.05 69.30,24.65 63.50,19.05" fill="#008000"/><polygon points="104.94,138.36 110.74,143.96 104.94,149.56 99.14,143.96" fill="#008000"/><polygon points="125.79,217.72 131.59,223.32 125.79,228.92 119.99,223.32" fill="#008000"/><polygon points="140.58,245.63 146.38,251.23 140.58,256.83 134.78,251.23" fill="#008000"/><polygon points="152.06,270.59 157.86,276.19 152.06,281.79 146.26,276.19" fill="#008000"/><polygon points="161.43,280.17 167.23,285.77 161.43,291.37 155.63,285.77" fill="#008000"/><polygon points="169.36,290.44 175.16,296.04 169.36,301.64 163.56,296.04" fill="#008000"/><polygon points="176.23,297.06 182.03,302.66 176.23,308.26 170.43,302.66" fill="#008000"/><polygon points="182.28,303.68 188.08,309.28 182.28,314.88 176.48,309.28" fill="#008000"/><polygon points="187.70,308.06 193.50,313.66 187.70,319.26 181.90,313.66" fill="#008000"/><polygon points="197.08,316.79 202.88,322.39 197.08,327.99 191.28,322.39" fill="#008000"/><polygon points="205.00,320.68 210.80,326.28 205.00,331.88 199.20,326.28" fill="#008000"/><polygon points="208.55,321.85 214.35,327.45 208.55,333.05 202.75,327.45" fill="#008000"/><polygon points="214.99,326.13 220.79,331.73 214.99,337.33 209.19,331.73" fill="#008000"/><polygon points="223.34,330.16 229.14,335.76 223.34,341.36 217.54,335.76" fill="#008000"/><polygon points="230.53,333.43 236.33,339.03 230.53,344.63 224.73,339.03" fill="#008000"/><polygon points="234.82,335.76 240.62,341.36 234.82,346.96 229.02,341.36" fill="#008000"/><polygon points="244.19,340.50 249.99,346.10 244.19,351.70 238.39,346.10" fill="#008000"/><polygon points="252.12,341.72 257.92,347.32 252.12,352.92 246.32,347.32" fill="#008000"/><polygon points="258.98,343.89 264.78,349.49 258.98,355.09 253.18,349.49" fill="#008000"/><polygon points="265.04,345.88 270.84,351.48 265.04,357.08 259.24,351.48" fill="#008000"/><polygon points="270.46,346.58 276.26,352.18 270.46,357.78 264.66,352.18" fill="#008000"/><polygon points="279.83,347.84 285.63,353.44 279.83,359.04 274.03,353.44" fill="#008000"/><polygon points="287.76,348.84 293.56,354.44 287.76,360.04 281.96,354.44" fill="#008000"/><polygon points="294.63,350.13 300.43,355.73 294.63,361.33 288.83,355.73" fill="#008000"/><polygon points="300.68,351.03 306.48,356.63 300.68,362.23 294.88,356.63" fill="#008000"/><polygon points="306.10,352.15 311.90,357.75 306.10,363.35 300.30,357.75" fill="#008000"/><polygon points="315.48,353.24 321.28,358.84 315.48,364.44 309.68,358.84" fill="#008000"/><polygon points="326.95,354.13 332.75,359.73 326.95,365.33 321.15,359.73" fill="#008000"/><polygon points="333.39,354.63 339.19,360.23 333.39,365.83 327.59,360.23" fill="#008000"/><polygon points="341.74,355.28 347.54,360.88 341.74,366.48 335.94,360.88" fill="#008000"/><polygon points="348.93,355.84 354.73,361.44 348.93,367.04 343.13,361.44" fill="#008000"/><polygon points="353.22,356.17 359.02,361.77 353.22,367.37 347.42,361.77" fill="#008000"/><polygon points="359.04,356.61 364.84,362.21 359.04,367.81 353.24,362.21" fill="#008000"/><polygon points="362.59,356.88 368.39,362.48 362.59,368.08 356.79,362.48" fill="#008000"/><polygon points="370.52,357.48 376.32,363.08 370.52,368.68 364.72,363.08" fill="#008000"/><polygon points="377.38,357.99 383.18,363.59 377.38,369.19 371.58,363.59" fill="#008000"/><polygon points="383.44,358.45 389.24,364.05 383.44,369.65 377.64,364.05" fill="#008000"/><polygon points="388.86,358.86 394.66,364.46 388.86,370.06 383.06,364.46" fill="#008000"/><polygon points="398.23,359.57 404.03,365.17 398.23,370.77 392.43,365.17" fill="#008000"/><polygon points="406.16,360.17 411.96,365.77 406.16,371.37 400.36,365.77" fill="#008000"/><polygon points="413.03,360.68 418.83,366.28 413.03,371.88 407.23,366.28" fill="#008000"/><polygon points="419.08,361.14 424.88,366.74 419.08,372.34 413.28,366.74" fill="#008000"/><polygon points="424.50,361.55 430.30,367.15 424.50,372.75 418.70,367.15" fill="#008000"/><polygon points="429.40,361.84 435.20,367.44 429.40,373.04 423.60,367.44" fill="#008000"/><polygon points="433.88,362.11 439.68,367.71 433.88,373.31 428.08,367.71" fill="#008000"/><polygon points="437.99,362.35 443.79,367.95 437.99,373.55 432.19,367.95" fill="#008000"/><polygon points="441.80,362.58 447.60,368.18 441.80,373.78 436.00,368.18" fill="#008000"/><polygon points="445.35,362.79 451.15,368.39 445.35,373.99 439.55,368.39" fill="#008000"/><polygon points="448.67,362.99 454.47,368.59 448.67,374.19 442.87,368.59" fill="#008000"/><polygon points="451.79,363.18 457.59,368.78 451.79,374.38 445.99,368.78" fill="#008000"/><polygon points="454.72,363.34 460.52,368.94 454.72,374.54 448.92,368.94" fill="#008000"/><polygon points="457.50,363.47 463.30,369.07 457.50,374.67 451.70,369.07" fill="#008000"/><polygon points="460.14,363.58 465.94,369.18 460.14,374.78 454.34,369.18" fill="#008000"/><polygon points="466.20,363.85 472.00,369.45 466.20,375.05 460.40,369.45" fill="#008000"/><polygon points="471.62,364.10 477.42,369.70 471.62,375.30 465.82,369.70" fill="#008000"/><polygon points="476.52,364.32 482.32,369.92 476.52,375.52 470.72,369.92" fill="#008000"/><polygon points="480.99,364.52 486.79,370.12 480.99,375.72 475.19,370.12" fill="#008000"/><polygon points="488.92,364.72 494.72,370.32 488.92,375.92 483.12,370.32" fill="#008000"/><polygon points="495.78,364.83 501.58,370.43 495.78,376.03 489.98,370.43" fill="#008000"/><polygon points="501.84,364.93 507.64,370.53 501.84,376.13 496.04,370.53" fill="#008000"/><polygon points="507.26,365.02 513.06,370.62 507.26,376.22 501.46,370.62" fill="#008000"/><polygon points="512.16,365.10 517.96,370.70 512.16,376.30 506.36,370.70" fill="#008000"/><polygon points="516.63,365.17 522.43,370.77 516.63,376.37 510.83,370.77" fill="#008000"/><polygon points="520.75,365.23 526.55,370.83 520.75,376.43 514.95,370.83" fill="#008000"/><polygon points="524.56,365.30 530.36,370.90 524.56,376.50 518.76,370.90" fill="#008000"/><polygon points="528.11,365.35 533.91,370.95 528.11,376.55 522.31,370.95" fill="#008000"/><polygon points="531.43,365.41 537.23,371.01 531.43,376.61 525.63,371.01" fill="#008000"/><polygon points="534.54,365.46 540.34,371.06 534.54,376.66 528.74,371.06" fill="#008000"/><polygon points="537.48,365.50 543.28,371.10 537.48,376.70 531.68,371.10" fill="#008000"/><polygon points="540.26,365.55 546.06,371.15 540.26,376.75 534.46,371.15" fill="#008000"/><polygon points="542.90,365.59 548.70,371.19 542.90,376.79 537.10,371.19" fill="#008000"/></g>
</g>
<rect x="58" y="4.6" width="485" height="382.4" fill="none" stroke="#000" stroke-width="2"/>
<g font-family="Liberation Sans, Arial, sans-serif" font-weight="bold" font-size="16.5" fill="#000" stroke="#000" stroke-width="0.3">
<text transform="translate(50.2,391.20) scale(1,1.02)" text-anchor="end">0</text>
<text transform="translate(50.2,317.73) scale(1,1.02)" text-anchor="end">10</text>
<text transform="translate(50.2,244.26) scale(1,1.02)" text-anchor="end">20</text>
<text transform="translate(50.2,170.79) scale(1,1.02)" text-anchor="end">30</text>
<text transform="translate(50.2,97.32) scale(1,1.02)" text-anchor="end">40</text>
<text transform="translate(50.2,23.85) scale(1,1.02)" text-anchor="end">50</text>
<text transform="translate(69.90,407.2) scale(1,1.02)" text-anchor="middle">2</text>
<text transform="translate(188.30,407.2) scale(1,1.02)" text-anchor="middle">3</text>
<text transform="translate(306.70,407.2) scale(1,1.02)" text-anchor="middle">4</text>
<text transform="translate(425.10,407.2) scale(1,1.02)" text-anchor="middle">5</text>
<text transform="translate(543.50,407.2) scale(1,1.02)" text-anchor="middle">6</text>
</g>
<text transform="translate(301,426.6) scale(1,1.05)" text-anchor="middle" font-family="Liberation Sans, Arial, sans-serif" font-weight="bold" font-size="19.5" stroke="#000" stroke-width="0.3">log f, (Hz)</text>
<text transform="translate(17.9,278.6) rotate(-90) scale(1,1.03)" font-family="Liberation Sans, Arial, sans-serif" font-weight="bold" font-size="17.3" stroke="#000" stroke-width="0.3">Dielectric Loss <tspan font-weight="normal">&#949;&#8243;</tspan></text>
<text x="140" y="31.3" font-family="Liberation Sans, Arial, sans-serif" font-weight="bold" font-size="20" stroke="#000" stroke-width="0.3">(d)</text>
<path d="M343 20.0H352.7M364.8 20.0H374.5" stroke="#000000" stroke-width="1"/>
<rect x="354.80" y="16.00" width="8.0" height="8.0" fill="#000000"/>
<text x="377.9" y="25.4" font-family="Liberation Serif, Times New Roman, serif" font-weight="bold" font-size="14.2" stroke="#000" stroke-width="0.2">Pure PVA</text>
<path d="M343 37.1H352.7M364.8 37.1H374.5" stroke="#ff0000" stroke-width="1"/>
<circle cx="358.80" cy="37.10" r="4.6" fill="#ff0000"/>
<text x="374.2" y="42.7" font-family="Liberation Serif, Times New Roman, serif" font-weight="bold" font-size="14.2" stroke="#000" stroke-width="0.2">0.037</text>
<text x="410.2" y="42.7" font-family="Liberation Serif, Times New Roman, serif" font-weight="bold" font-size="14.2" stroke="#000" stroke-width="0.2">wt</text>
<text x="428.5" y="42.7" font-family="Liberation Serif, Times New Roman, serif" font-weight="bold" font-size="14.2" stroke="#000" stroke-width="0.2">%</text>
<text transform="translate(444.9,42.1) scale(1,1.08)" font-family="Liberation Sans, Arial, sans-serif" font-weight="bold" font-size="13.4" stroke="#000" stroke-width="0.3">AMF02/PVA</text>
<path d="M343 54.4H352.7M364.8 54.4H374.5" stroke="#00ff00" stroke-width="1"/>
<polygon points="358.80,48.50 363.90,57.35 353.70,57.35" fill="#00ff00"/>
<text x="377.9" y="60.0" font-family="Liberation Serif, Times New Roman, serif" font-weight="bold" font-size="14.2" stroke="#000" stroke-width="0.2">0.185</text>
<text x="413.9" y="60.0" font-family="Liberation Serif, Times New Roman, serif" font-weight="bold" font-size="14.2" stroke="#000" stroke-width="0.2">wt</text>
<text x="432.2" y="60.0" font-family="Liberation Serif, Times New Roman, serif" font-weight="bold" font-size="14.2" stroke="#000" stroke-width="0.2">%</text>
<text transform="translate(448.6,59.4) scale(1,1.08)" font-family="Liberation Sans, Arial, sans-serif" font-weight="bold" font-size="13.4" stroke="#000" stroke-width="0.3">AMF02/PVA</text>
<path d="M343 72.4H352.7M364.8 72.4H374.5" stroke="#0000ff" stroke-width="1"/>
<polygon points="358.80,78.30 363.90,69.45 353.70,69.45" fill="#0000ff"/>
<text x="377.9" y="77.4" font-family="Liberation Serif, Times New Roman, serif" font-weight="bold" font-size="14.2" stroke="#000" stroke-width="0.2">0.37</text>
<text x="413.9" y="77.4" font-family="Liberation Serif, Times New Roman, serif" font-weight="bold" font-size="14.2" stroke="#000" stroke-width="0.2">wt</text>
<text x="432.2" y="77.4" font-family="Liberation Serif, Times New Roman, serif" font-weight="bold" font-size="14.2" stroke="#000" stroke-width="0.2">%</text>
<text transform="translate(448.6,76.8) scale(1,1.08)" font-family="Liberation Sans, Arial, sans-serif" font-weight="bold" font-size="13.4" stroke="#000" stroke-width="0.3">AMF02/PVA</text>
<path d="M343 89.6H352.7M364.8 89.6H374.5" stroke="#00ffff" stroke-width="1"/>
<polygon points="352.90,89.60 361.75,84.50 361.75,94.70" fill="#00ffff"/>
<text x="377.9" y="94.7" font-family="Liberation Serif, Times New Roman, serif" font-weight="bold" font-size="14.2" stroke="#000" stroke-width="0.2">1.85</text>
<text x="413.9" y="94.7" font-family="Liberation Serif, Times New Roman, serif" font-weight="bold" font-size="14.2" stroke="#000" stroke-width="0.2">wt</text>
<text x="432.2" y="94.7" font-family="Liberation Serif, Times New Roman, serif" font-weight="bold" font-size="14.2" stroke="#000" stroke-width="0.2">%</text>
<text transform="translate(448.6,94.1) scale(1,1.08)" font-family="Liberation Sans, Arial, sans-serif" font-weight="bold" font-size="13.4" stroke="#000" stroke-width="0.3">AMF02/PVA</text>
<path d="M343 107.2H352.7M364.8 107.2H374.5" stroke="#ff00ff" stroke-width="1"/>
<polygon points="364.70,107.20 355.85,102.10 355.85,112.30" fill="#ff00ff"/>
<text x="377.9" y="112.0" font-family="Liberation Serif, Times New Roman, serif" font-weight="bold" font-size="14.2" stroke="#000" stroke-width="0.2">3.7</text>
<text x="410.2" y="112.0" font-family="Liberation Serif, Times New Roman, serif" font-weight="bold" font-size="14.2" stroke="#000" stroke-width="0.2">wt</text>
<text x="428.5" y="112.0" font-family="Liberation Serif, Times New Roman, serif" font-weight="bold" font-size="14.2" stroke="#000" stroke-width="0.2">%</text>
<text transform="translate(444.9,111.4) scale(1,1.08)" font-family="Liberation Sans, Arial, sans-serif" font-weight="bold" font-size="13.4" stroke="#000" stroke-width="0.3">AMF02/PVA</text>
<path d="M343 124.6H352.7M364.8 124.6H374.5" stroke="#008000" stroke-width="1"/>
<polygon points="358.80,119.00 364.60,124.60 358.80,130.20 353.00,124.60" fill="#008000"/>
<text x="377.9" y="129.4" font-family="Liberation Serif, Times New Roman, serif" font-weight="bold" font-size="14.2" stroke="#000" stroke-width="0.2">11.11</text>
<text x="413.9" y="129.4" font-family="Liberation Serif, Times New Roman, serif" font-weight="bold" font-size="14.2" stroke="#000" stroke-width="0.2">wt</text>
<text x="432.2" y="129.4" font-family="Liberation Serif, Times New Roman, serif" font-weight="bold" font-size="14.2" stroke="#000" stroke-width="0.2">%</text>
<text transform="translate(448.6,128.8) scale(1,1.08)" font-family="Liberation Sans, Arial, sans-serif" font-weight="bold" font-size="13.4" stroke="#000" stroke-width="0.3">AMF02/PVA</text>
</svg>
</body></html>
